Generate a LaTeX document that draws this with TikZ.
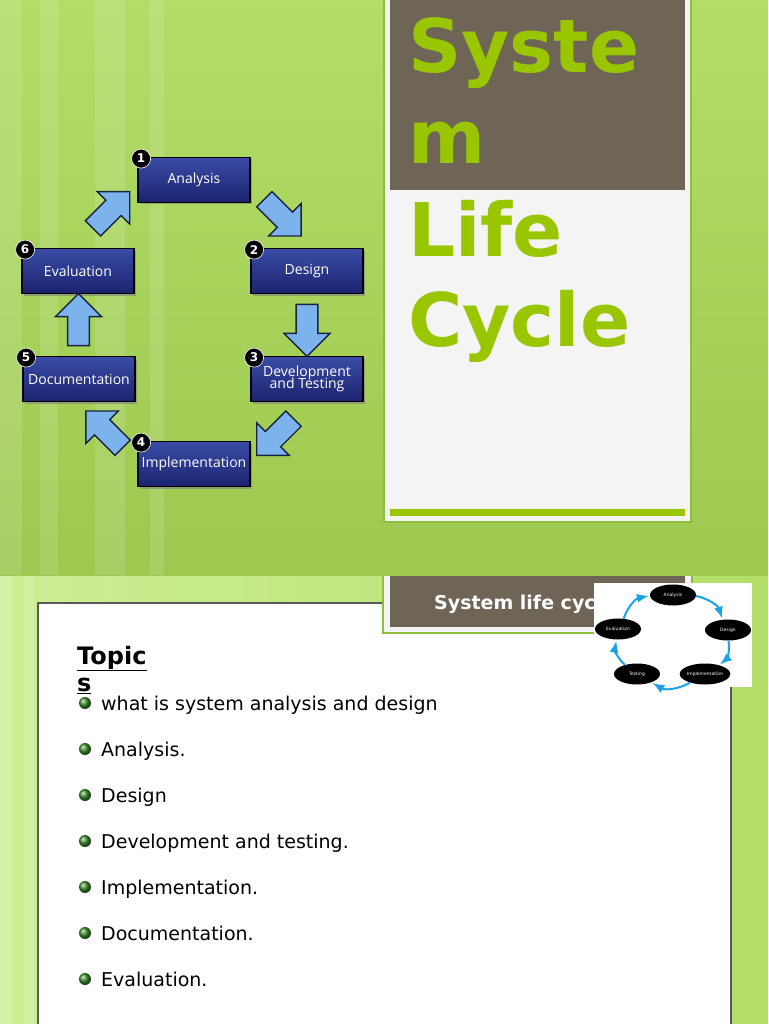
\documentclass[tikz,border=0pt]{standalone}
\usepackage{fontspec}
\setmainfont{DejaVu Sans}
\newfontfamily\boxfont{Open Sans}
\usetikzlibrary{
  arrows.meta,
  calc,
  positioning,
  shadows,
  shapes.arrows,
  shapes.geometric,
}
\definecolor{slidegreen}{HTML}{B2DE68}
\definecolor{slidelight}{HTML}{CDEF95}
\definecolor{slidedark}{HTML}{9DC950}
\definecolor{panelbrown}{HTML}{6E6557}
\definecolor{titlegreen}{HTML}{99C600}
\definecolor{panelframe}{HTML}{8DBF3C}
\definecolor{panelfill}{HTML}{F4F4F4}
\definecolor{boxtop}{HTML}{3A4CA6}
\definecolor{boxbottom}{HTML}{1B236E}
\definecolor{arrowfill}{HTML}{7DB3EC}
\definecolor{arrowline}{HTML}{18243F}
\definecolor{cycblue}{HTML}{1AA3E8}
\definecolor{bulletgreen}{HTML}{3C8C2C}
\tikzset{
  >=Latex,
  stage/.style={draw=black, line width=1.8pt, top color=boxtop, bottom color=boxbottom,
    minimum width=112, minimum height=45, inner sep=2pt, text=white, align=center,
    font=\boxfont\fontsize{14}{15}\selectfont,
    drop shadow={shadow xshift=2pt, shadow yshift=-2pt, opacity=0.6}},
  badge/.style={circle, fill=black, draw=white, line width=0.6pt, minimum size=19,
    inner sep=0pt, text=white, font=\bfseries\fontsize{12}{12}\selectfont},
  blockarrow/.style={single arrow, draw=arrowline, fill=arrowfill, line width=1.4pt,
    minimum height=52, minimum width=46, single arrow head extend=12, inner sep=10pt},
  phase/.style={ellipse, fill=black, minimum width=46, minimum height=21, inner sep=0pt,
    text=white, font=\fontsize{4.5}{5}\selectfont},
  cyclink/.style={->, cycblue, line width=2pt, shorten >=1pt},
  bigtitle/.style={anchor=base west, inner sep=0pt, text=titlegreen,
    font=\bfseries\fontsize{74}{74}\selectfont},
  item/.style={anchor=base west, inner sep=0pt, font=\fontsize{19}{22}\selectfont},
}

\begin{document}
\begin{tikzpicture}[x=1pt, y=-1pt]
  \useasboundingbox (0,0) rectangle (768,1024);
  \clip (0,0) rectangle (768,1024);

  % upper slide
  \shade[top color=slidegreen, bottom color=slidedark] (0,0) rectangle (768,575);
  \foreach \x/\w in {0/22, 40/18, 95/30, 150/14}
    \fill[white, opacity=0.12] (\x,0) rectangle ++(\w,575);

  \draw[panelframe, line width=1.5pt, fill=panelfill] (384,-2) rectangle (691,522);
  \fill[panelbrown] (390,0) rectangle (685,190);
  \fill[titlegreen] (390,509) rectangle (685,516);
  \node[bigtitle] (t1) at (408,73) {Syste};
  \node[bigtitle] (t2) at (408,164) {m};
  \node[bigtitle] (t3) at (408,256) {Life};
  \node[bigtitle] (t4) at (408,346) {Cycle};

  % the six stages
  \node[stage] (ana) at (194,180) {Analysis};
  \node[stage] (des) at (307,271) {Design};
  \node[stage] (dev) at (307,379) {Development\\[-3pt]and Testing};
  \node[stage] (imp) at (194,464) {Implementation};
  \node[stage] (doc) at (79,379) {Documentation};
  \node[stage] (eva) at (78,271) {Evaluation};

  \foreach \n/\N in {ana/1, des/2, dev/3, imp/4, doc/5, eva/6}
    \node[badge] (b\N) at ($(\n.north west)+(4,2)$) {\N};

  \node[blockarrow, rotate=-45]  (a1) at ($(ana.east)!0.5!(des.north)$) {};
  \node[blockarrow, rotate=-90]  (a2) at ($(des.south)!0.5!(dev.north)$) {};
  \node[blockarrow, rotate=-135] (a3) at ($(dev.south)!0.5!(imp.east)$) {};
  \node[blockarrow, rotate=135]  (a4) at ($(imp.west)!0.5!(doc.south)$) {};
  \node[blockarrow, rotate=90]   (a5) at ($(doc.north)!0.5!(eva.south)$) {};
  \node[blockarrow, rotate=45]   (a6) at ($(eva.north)!0.5!(ana.west)$) {};

  % lower slide
  \shade[left color=slidelight, right color=slidegreen] (0,576) rectangle (768,1024);
  \foreach \x/\w in {0/12, 25/8}
    \fill[white, opacity=0.15] (\x,576) rectangle ++(\w,448);
  \draw[black!65, line width=1.3pt, fill=white] (38,603) rectangle (731,1030);

  \fill[panelfill] (383,576) rectangle (692,633);
  \draw[panelframe, line width=1.2pt] (383,576) -- (383,633) -- (692,633) -- (692,576);
  \fill[panelbrown] (390,576) rectangle (685,627);
  \node[anchor=base west, inner sep=0pt, text=white,
    font=\bfseries\fontsize{19}{19}\selectfont] (sub) at (434,609) {System life cycle};

  \node[anchor=base west, inner sep=0pt, font=\bfseries\fontsize{24}{26}\selectfont]
    (topic) at (77,664) {\underline{Topic}};
  \node[anchor=base west, inner sep=0pt, font=\bfseries\fontsize{24}{26}\selectfont]
    (topics) at (77,691) {\underline{s}};

  \foreach \i/\A in {
    0/what is system analysis and design,
    1/Analysis.,
    2/Design,
    3/Development and testing.,
    4/Implementation.,
    5/Documentation.,
    6/Evaluation.
  } {
    \node[item] (item\i) at (101,{710+46*\i}) {\A};
    \shade[ball color=bulletgreen] ($(item\i.base west)+(-16,-7)$) circle (6);
  }

  % small cycle picture
  \fill[white] (594,583) rectangle (752,687);
  \node[phase] (p1) at (673,595) {Analysis};
  \node[phase] (p2) at (728,630) {Design};
  \node[phase] (p3) at (705,674) {Implementation};
  \node[phase] (p4) at (637,674) {Testing};
  \node[phase] (p5) at (618,629) {Evaluation};
  \draw[cyclink] (p1) to[bend left=30] (p2);
  \draw[cyclink] (p2) to[bend left=30] (p3);
  \draw[cyclink] (p3) to[bend left=30] (p4);
  \draw[cyclink] (p4) to[bend left=30] (p5);
  \draw[cyclink] (p5) to[bend left=30] (p1);
\end{tikzpicture}
\end{document}
